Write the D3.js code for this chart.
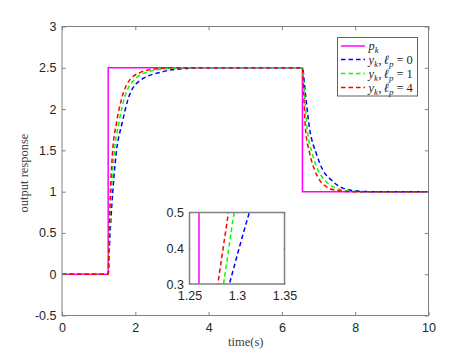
<!DOCTYPE html>
<html>
<head>
<meta charset="utf-8">
<script src="https://cdn.jsdelivr.net/npm/d3@7"></script>
<style>
  html, body { margin: 0; padding: 0; background: #ffffff; }
  svg { display: block; }
</style>
</head>
<body>
<svg id="chart" width="474" height="355"></svg>
<script>
// ---------- data ----------
const xTicks = [0, 2, 4, 6, 8, 10];
const yTicks = [-0.5, 0, 0.5, 1, 1.5, 2, 2.5, 3];
const xTickLabels = ["0", "2", "4", "6", "8", "10"];
const yTickLabels = ["-0.5", "0", "0.5", "1", "1.5", "2", "2.5", "3"];
const insetXTicks = [1.25, 1.3, 1.35];
const insetYTicks = [0.3, 0.4, 0.5];
const insetXTickLabels = ["1.25", "1.3", "1.35"];
const insetYTickLabels = ["0.3", "0.4", "0.5"];

// reference p_k (step signal)
const pT = [0, 1.26, 1.26, 6.56, 6.56, 10];
const pY = [0, 0, 2.5, 2.5, 1, 1];

// y_k, l_p = 0 (blue)
const y0T = [0, 1.262, 1.292, 1.313, 1.36, 1.473, 1.645, 1.81, 2.08, 2.72, 3.3, 3.8, 6.56, 6.64, 6.75, 6.94, 7.12, 7.35, 7.58, 7.85, 8.4, 10];
const y0V = [0, 0, 0.3, 0.5, 0.84, 1.44, 1.84, 2.13, 2.33, 2.45, 2.49, 2.5, 2.5, 2.19, 1.78, 1.46, 1.26, 1.14, 1.06, 1.02, 1.0, 1.0];
// y_k, l_p = 1 (green)
const y1T = [0, 1.266, 1.2858, 1.297, 1.325, 1.418, 1.555, 1.70, 1.92, 2.35, 2.9, 3.3, 6.56, 6.615, 6.685, 6.83, 6.985, 7.17, 7.39, 7.62, 8.1, 10];
const y1V = [0, 0, 0.3, 0.5, 0.84, 1.44, 1.84, 2.13, 2.33, 2.45, 2.49, 2.5, 2.5, 2.19, 1.78, 1.46, 1.26, 1.14, 1.06, 1.02, 1.0, 1.0];
// y_k, l_p = 4 (red)
const y4T = [0, 1.263, 1.2798, 1.291, 1.31, 1.373, 1.49, 1.63, 1.81, 2.17, 2.6, 3.0, 6.56, 6.594, 6.64, 6.76, 6.895, 7.03, 7.21, 7.44, 7.9, 10];
const y4V = [0, 0, 0.3, 0.5, 0.84, 1.44, 1.84, 2.13, 2.33, 2.45, 2.49, 2.5, 2.5, 2.19, 1.78, 1.46, 1.26, 1.14, 1.06, 1.02, 1.0, 1.0];

const seriesColors = ["#ff00ff", "#0000ff", "#00ff00", "#ff0000"];
const legendValues = ["0", "1", "4"];

// ---------- build ----------
const svg = d3.select("#chart");
const axisColor = "#808080";
const textColor = "#262626";
const sansFont = "'Liberation Sans', Arial, Helvetica, sans-serif";
const serifFont = "'Liberation Serif', 'Times New Roman', serif";

const zip = (T, V) => T.map((t, i) => ({ t: t, v: V[i] }));
const series = [
  { key: "p", data: zip(pT, pY), color: seriesColors[0], dash: null, curve: d3.curveLinear },
  { key: "l0", data: zip(y0T, y0V), color: seriesColors[1], dash: "4.5,3", curve: d3.curveMonotoneX },
  { key: "l1", data: zip(y1T, y1V), color: seriesColors[2], dash: "4.5,3", curve: d3.curveMonotoneX },
  { key: "l4", data: zip(y4T, y4V), color: seriesColors[3], dash: "4.5,3", curve: d3.curveMonotoneX }
];

function drawPanel(opts) {
  const { x, y, xt, yt, xtl, ytl, clipId, tickLen, boxWidth, fill } = opts;
  const [x0, x1] = x.range();
  const [yb, yt0] = y.range();
  const g = svg.append("g");

  g.append("rect").attr("x", x0).attr("y", yt0).attr("width", x1 - x0).attr("height", yb - yt0)
    .attr("fill", fill);

  g.append("clipPath").attr("id", clipId).append("rect")
    .attr("x", x0).attr("y", yt0).attr("width", x1 - x0).attr("height", yb - yt0);

  const lines = g.append("g").attr("clip-path", `url(#${clipId})`);
  series.forEach(s => {
    const line = d3.line().x(d => x(d.t)).y(d => y(d.v)).curve(s.curve);
    lines.append("path").attr("d", line(s.data))
      .attr("fill", "none").attr("stroke", s.color).attr("stroke-width", 1.5)
      .attr("stroke-dasharray", s.dash);
  });

  const bottom = g.append("g").attr("transform", `translate(0,${yb})`)
    .call(d3.axisBottom(x).tickValues(xt).tickFormat((d, i) => xtl[i])
      .tickSizeInner(-tickLen).tickSizeOuter(0).tickPadding(7.5));
  const left = g.append("g").attr("transform", `translate(${x0},0)`)
    .call(d3.axisLeft(y).tickValues(yt).tickFormat((d, i) => ytl[i])
      .tickSizeInner(-tickLen).tickSizeOuter(0).tickPadding(5.5));
  const top = g.append("g").attr("transform", `translate(0,${yt0})`)
    .call(d3.axisTop(x).tickValues(xt).tickFormat("").tickSizeInner(-tickLen).tickSizeOuter(0));
  const right = g.append("g").attr("transform", `translate(${x1},0)`)
    .call(d3.axisRight(y).tickValues(yt).tickFormat("").tickSizeInner(-tickLen).tickSizeOuter(0));
  [bottom, left, top, right].forEach(a => {
    a.select(".domain").remove();
    a.selectAll("line").attr("stroke", axisColor);
    a.selectAll("text").attr("fill", textColor).style("font-family", sansFont).style("font-size", "12.5px");
  });
  g.append("rect").attr("x", x0).attr("y", yt0).attr("width", x1 - x0).attr("height", yb - yt0)
    .attr("fill", "none").attr("stroke", axisColor).attr("stroke-width", boxWidth);
  return g;
}

// main axes
const x = d3.scaleLinear().domain([0, 10]).range([62, 428.5]);
const y = d3.scaleLinear().domain([-0.5, 3]).range([315.5, 26.5]);
drawPanel({ x, y, xt: xTicks, yt: yTicks, xtl: xTickLabels, ytl: yTickLabels,
  clipId: "clipMain", tickLen: 3.7, boxWidth: 1, fill: "#ffffff" });

// axis labels
svg.append("text").attr("x", (62 + 428.5) / 2 + 0.5).attr("y", 346)
  .attr("text-anchor", "middle").attr("fill", "#404040")
  .style("font-family", serifFont).style("font-size", "12.5px").text("time(s)");
svg.append("text").attr("transform", `translate(28,${(26.5 + 315.5) / 2 + 2}) rotate(-90)`)
  .attr("text-anchor", "middle").attr("fill", "#404040")
  .style("font-family", serifFont).style("font-size", "12.5px").text("output response");

// legend
const legend = svg.append("g");
legend.append("rect").attr("x", 337.5).attr("y", 37.5).attr("width", 80).attr("height", 58.5)
  .attr("fill", "#ffffff").attr("stroke", "#606060").attr("stroke-width", 1);
const legRows = [46, 59.5, 73.5, 87.5];
series.forEach((s, i) => {
  legend.append("line").attr("x1", 341).attr("x2", 365).attr("y1", legRows[i]).attr("y2", legRows[i])
    .attr("stroke", s.color).attr("stroke-width", 1.5).attr("stroke-dasharray", s.dash);
  const txt = legend.append("text").attr("x", 368.5).attr("y", legRows[i] + 4)
    .attr("fill", textColor).style("font-family", serifFont).style("font-size", "12.5px");
  if (i === 0) {
    txt.append("tspan").style("font-style", "italic").text("p");
    txt.append("tspan").attr("dy", 3).style("font-style", "italic").style("font-size", "9px").text("k");
  } else {
    txt.append("tspan").style("font-style", "italic").text("y");
    txt.append("tspan").attr("dy", 3).style("font-style", "italic").style("font-size", "9px").text("k");
    txt.append("tspan").attr("dy", -3).attr("dx", 0.5).text(",");
    txt.append("tspan").attr("dx", 2).style("font-style", "italic").text("ℓ");
    txt.append("tspan").attr("dy", 3).style("font-style", "italic").style("font-size", "9px").text("p");
    txt.append("tspan").attr("dy", -3).attr("dx", 3).text("=");
    txt.append("tspan").attr("dx", 3).text(legendValues[i - 1]);
  }
});

// inset axes
const xi = d3.scaleLinear().domain([1.25, 1.35]).range([189.5, 284.5]);
const yi = d3.scaleLinear().domain([0.3, 0.5]).range([284, 212.5]);
drawPanel({ x: xi, y: yi, xt: insetXTicks, yt: insetYTicks, xtl: insetXTickLabels, ytl: insetYTickLabels,
  clipId: "clipInset", tickLen: 1, boxWidth: 1.5, fill: "#ffffff" });
</script>
</body>
</html>
